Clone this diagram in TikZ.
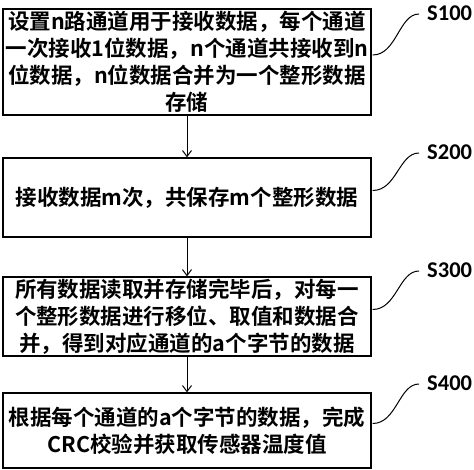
\documentclass[tikz,border=0pt]{standalone}
\usepackage{fontspec}
\setmainfont{Noto Sans CJK SC}[BoldFont={Noto Sans CJK SC Bold}]
\newfontfamily\labfont{Carlito}
\usetikzlibrary{arrows.meta,calc}
\begin{document}
\begin{tikzpicture}[x=1pt,y=-1pt,
  box/.style={draw=black, line width=1.3pt, minimum width=368pt, align=center, inner sep=0pt,
    font=\fontsize{21.5}{27}\selectfont\bfseries},
  flow/.style={-{Straight Barb[length=6pt,width=9pt]}, line width=1pt},
  lab/.style={font=\fontsize{22.5}{26}\labfont\bfseries, anchor=west, inner sep=0pt},
  wave/.style={line width=1pt}]
\useasboundingbox (0,0) rectangle (474,470);
\node[box, minimum height=106pt] (b1) at (187,62) {设置n路通道用于接收数据，每个通道\\一次接收1位数据，n个通道共接收到n\\位数据，n位数据合并为一个整形数据\\存储};
\node[box, minimum height=79pt] (b2) at (187,197.5) {接收数据m次，共保存m个整形数据};
\node[box, minimum height=79pt] (b3) at (187,316.5) {所有数据读取并存储完毕后，对每一\\个整形数据进行移位、取值和数据合\\并，得到对应通道的a个字节的数据};
\node[box, minimum height=75pt] (b4) at (187,430.5) {根据每个通道的a个字节的数据，完成\\CRC校验并获取传感器温度值};
\draw[flow] (b1.south) -- (b2.north);
\draw[flow] (b2.south) -- (b3.north);
\draw[flow] (b3.south) -- (b4.north);
\node[lab] (l1) at (427,13) {S100};
\node[lab] (l2) at (427,152) {S200};
\node[lab] (l3) at (427,270) {S300};
\node[lab] (l4) at (427,383) {S400};
\foreach \b/\l in {b1/l1,b2/l2,b3/l3,b4/l4}{
  \coordinate (s\b) at ($(\b.east)+(1,-7)$);
  \coordinate (e\b) at ($(\l.west)+(-8,1)$);
  \draw[wave] (s\b) .. controls ($(s\b)+(24,0)$) and ($(e\b)+(-20,0)$) .. (e\b);
}
\end{tikzpicture}
\end{document}
